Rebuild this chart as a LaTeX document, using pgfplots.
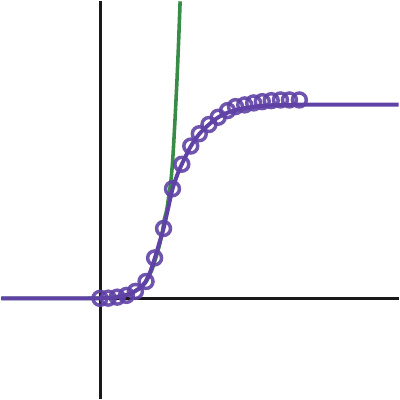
\documentclass[border=0pt]{standalone}
\usepackage{pgfplots}
\pgfplotsset{compat=1.18}
\definecolor{dpurple}{HTML}{6042A6}
\definecolor{dgreen}{HTML}{388C46}
\begin{document}
\begin{tikzpicture}
\begin{axis}[
  width=400pt, height=400pt, scale only axis,
  xmin=-100, xmax=300, ymin=-101, ymax=299,
  axis lines=middle,
  axis line style={-, line width=2.6pt, color=black!90},
  xtick=\empty, ytick=\empty,
]
% exponential-looking curve
\addplot[dgreen, line width=3.6pt, smooth, tension=0.4] coordinates {
  (-100,0) (-30,0.05) (0,0.2) (15,1.5) (30,5) (40,10.5) (46,17) (51.7,29)
  (55,39) (58,49) (60.5,59) (62.5,69) (64,79) (66.5,89) (68,99)
  (70.8,119) (72.5,139) (73.7,159) (74.8,179) (76.8,219) (78.5,259) (80,299)
};
% fitted sigmoid
\addplot[dpurple, line width=4pt, smooth, tension=0.4] coordinates {
  (-100,0) (-10,0) (0,0.2) (10,0.7) (20,2) (30,4.5) (40,11) (45,16.5)
  (50,27) (55,42) (60,59) (63.3,70.3) (68,91) (72.3,110) (77,124)
  (81.7,135) (90.7,153) (99.3,165.5) (109,175) (118,182) (128,187)
  (140,190.5) (155,193) (170,194.3) (190,194.8) (210,195) (300,195)
};
% data points
\addplot[only marks, mark=o, mark size=7pt,
  mark options={draw=dpurple, draw opacity=0.9, line width=3.5pt,
    fill=white, fill opacity=0.5}] coordinates {
  (-0.7,0) (7.7,0.2) (16.7,1.2) (26,3) (35,7) (45.7,17) (54.3,40.7)
  (63.3,70.3) (72.3,110.3) (81.7,135) (90.7,153.3) (99.3,165.7)
  (109,175) (118.3,182.3) (127.7,189) (135.7,193) (145,194.7)
  (154,196.7) (162.7,198) (171.7,199) (181,199.7) (190,199.7) (200,199.7)
};
\end{axis}
\end{tikzpicture}
\end{document}
